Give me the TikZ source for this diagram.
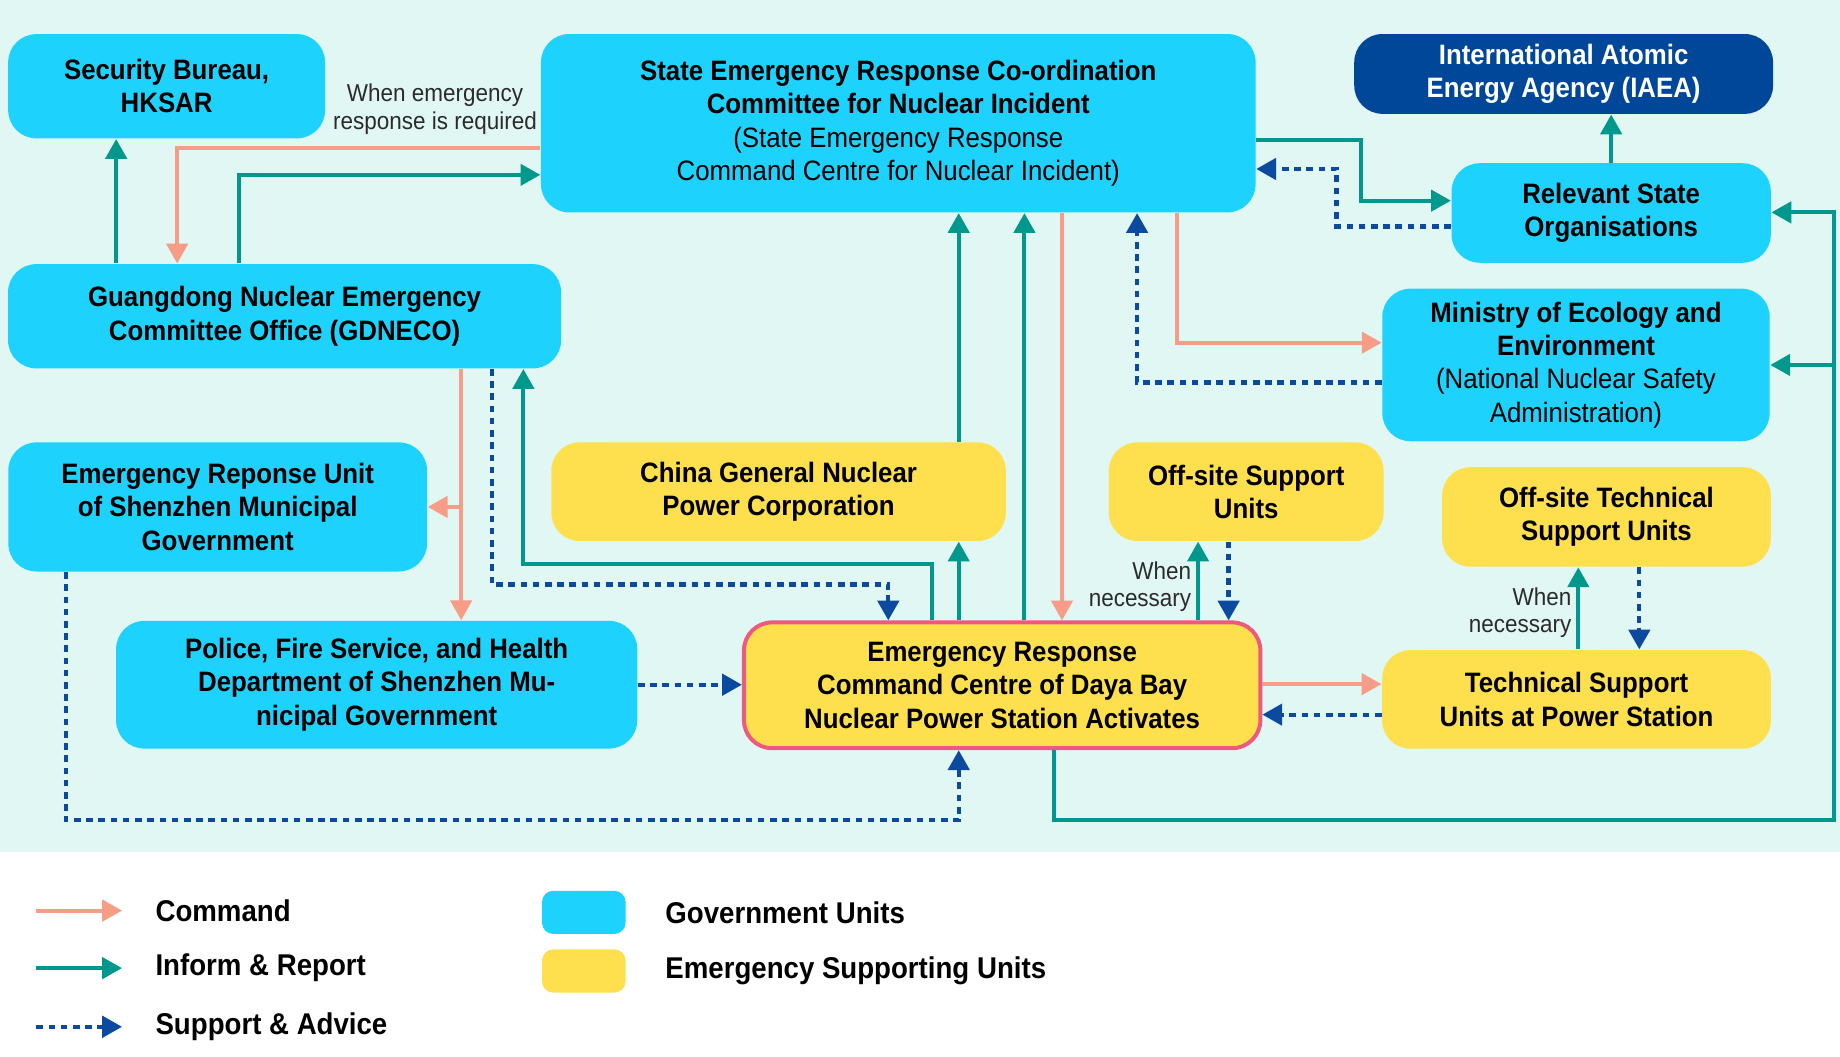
\documentclass[tikz,border=0pt]{standalone}
\usepackage{fontspec}
\setmainfont{Liberation Sans}[FakeStretch=0.92]
\usepackage{xcolor}
\usepackage{tikz}
\usetikzlibrary{positioning,arrows.meta}

\definecolor{bgmint}{HTML}{E0F7F4}
\definecolor{govblue}{HTML}{1DD3FD}
\definecolor{supyellow}{HTML}{FEDF4E}
\definecolor{iaeablue}{HTML}{00479A}
\definecolor{cmdsalmon}{HTML}{F69C87}
\definecolor{infoteal}{HTML}{00978C}
\definecolor{supnavy}{HTML}{0B4A9E}
\definecolor{erccred}{HTML}{EE5A7D}
\definecolor{notegrey}{HTML}{2B2B2B}

\begin{document}
\begin{tikzpicture}[
    x=0.0125cm, y=-0.0125cm,
    govbox/.style={
        rectangle, rounded corners=0.3cm, fill=govblue,
        inner sep=0pt, align=center,
        font=\fontsize{8.5}{10.1}\selectfont\bfseries
    },
    supbox/.style={govbox, fill=supyellow},
    note/.style={font=\fontsize{7.4}{8.3}\selectfont, text=notegrey, inner sep=1.5pt},
    command/.style={draw=cmdsalmon, line width=1.2pt, -{Triangle[length=6pt, width=6.4pt]}},
    inform/.style={draw=infoteal, line width=1.2pt, -{Triangle[length=6pt, width=6.4pt]}},
    support/.style={draw=supnavy, line width=1.3pt, dash pattern=on 2pt off 1.7pt,
        -{Triangle[length=6pt, width=6.4pt]}},
    legtext/.style={font=\fontsize{9.1}{10.5}\selectfont\bfseries, inner sep=0pt},
    legswatch/.style={rectangle, rounded corners=0.12cm, minimum width=0.89cm,
        minimum height=0.46cm, inner sep=0pt}
]
\useasboundingbox[fill=white] (0,0) rectangle (1568,900);
\fill[bgmint] (0,0) rectangle (1568,726);

% units
\node[govbox, minimum width=3.375cm, minimum height=1.11cm] (secbureau) at (142,73.5) {Security Bureau,\\HKSAR};
\node[govbox, minimum width=7.61cm, minimum height=1.9cm] (sercc) at (765.5,105)
    {State Emergency Response Co-ordination\\Committee for Nuclear Incident\\
     \textmd{(State Emergency Response}\\\textmd{Command Centre for Nuclear Incident)}};
\node[govbox, fill=iaeablue, text=white, minimum width=4.46cm, minimum height=0.85cm] (iaea) at (1332.5,63) {International Atomic\\Energy Agency (IAEA)};
\node[govbox, minimum width=3.4cm, minimum height=1.06cm] (relstate) at (1373,181.5) {Relevant State\\Organisations};
\node[govbox, minimum width=4.125cm, minimum height=1.625cm] (mee) at (1343,311)
    {Ministry of Ecology and\\Environment\\\textmd{(National Nuclear Safety}\\\textmd{Administration)}};
\node[govbox, minimum width=5.89cm, minimum height=1.11cm] (gdneco) at (242.5,269.5) {Guangdong Nuclear Emergency\\Committee Office (GDNECO)};
\node[govbox, minimum width=4.46cm, minimum height=1.375cm] (szeru) at (185.5,432) {Emergency Reponse Unit\\of Shenzhen Municipal\\Government};
\node[supbox, minimum width=4.84cm, minimum height=1.05cm] (cgn) at (663.5,419) {China General Nuclear\\Power Corporation};
\node[supbox, minimum width=2.925cm, minimum height=1.05cm] (offsite) at (1062,419) {Off-site Support\\Units};
\node[supbox, minimum width=3.5cm, minimum height=1.06cm] (offtech) at (1369,440.5) {Off-site Technical\\Support Units};
\node[govbox, minimum width=5.55cm, minimum height=1.36cm] (police) at (321,583.5) {Police, Fire Service, and Health\\Department of Shenzhen Mu-\\nicipal Government};
\node[supbox, draw=erccred, line width=1.2pt, minimum width=5.5cm, minimum height=1.34cm] (dbercc) at (854,584)
    {Emergency Response\\Command Centre of Daya Bay\\Nuclear Power Station Activates};
\node[supbox, minimum width=4.14cm, minimum height=1.05cm] (techps) at (1343.5,596) {Technical Support\\Units at Power Station};

\coordinate (cmdsplit) at (393,432);
\coordinate (rbranch) at (1563,311);

% command
\draw[command] (sercc.west |- 0,126) -| node[pos=0.145, above=2pt, note, align=center]{When emergency\\response is required} (gdneco.north -| 151,0);
\draw[command] (gdneco.south -| 393,0) -- (police.north -| 393,0);
\draw[command] (cmdsplit) -- (szeru.east |- cmdsplit);
\draw[command] (sercc.south -| 905,0) -- (dbercc.north -| 905,0);
\draw[command] (sercc.south -| 1003,0) |- (mee.west |- 0,292);
\draw[command] (dbercc.east |- 0,583) -- (techps.west |- 0,583);

% inform & report
\draw[inform] (gdneco.north -| 99,0) -- (secbureau.south -| 99,0);
\draw[inform] (gdneco.north -| 204,0) |- (sercc.west |- 0,149);
\draw[inform] (dbercc.north -| 794,0) -- ++(0,-48) -| (gdneco.south -| 446,0);
\draw[inform] (dbercc.north -| 817,0) -- (cgn.south -| 817,0);
\draw[inform] (cgn.north -| 817,0) -- (sercc.south -| 817,0);
\draw[inform] (dbercc.north -| 873,0) -- (sercc.south -| 873,0);
\draw[inform] (dbercc.north -| 1021,0) -- node[pos=0.43, left, note, align=right]{When\\necessary} (offsite.south -| 1021,0);
\draw[inform] (sercc.east |- 0,119) -| (1160,145) |- (relstate.west |- 0,171);
\draw[inform] (relstate.north) -- (relstate.north |- iaea.south);
\draw[inform] (dbercc.south -| 898,0) |- (1563,699) |- (relstate.east |- 0,181);
\draw[inform] (rbranch) -- (mee.east |- rbranch);
\draw[inform] (techps.north -| 1345,0) -- node[pos=0.45, left, note, align=right]{When\\necessary} (offtech.south -| 1345,0);

% support & advice
\draw[support] (gdneco.south -| 419,0) -- (419,498) -| (dbercc.north -| 757,0);
\draw[support] (szeru.south -| 56,0) -- (56,699) -| (dbercc.south -| 817,0);
\draw[support] (police.east) -- (dbercc.west |- police.east);
\draw[support] (offsite.south -| 1047,0) -- (dbercc.north -| 1047,0);
\draw[support] (techps.west |- 0,609) -- (dbercc.east |- 0,609);
\draw[support] (offtech.south -| 1397,0) -- (techps.north -| 1397,0);
\draw[support] (relstate.west |- 0,193) -| (1139,170) |- (sercc.east |- 0,144);
\draw[support] (mee.west |- 0,326) -| (sercc.south -| 969,0);

% legend
\coordinate (cmdA) at (31,776);
\coordinate (cmdB) at (104,776);
\coordinate (infA) at (31,825);
\coordinate (infB) at (104,825);
\coordinate (supA) at (31,875);
\coordinate (supB) at (104,875);
\draw[command] (cmdA) -- (cmdB);
\draw[inform] (infA) -- (infB);
\draw[support] (supA) -- (supB);
\node[legtext, right=0.35cm of cmdB] (cmdtxt) {Command};
\node[legtext, right=0.35cm of infB] (inftxt) {Inform \& Report};
\node[legtext, right=0.35cm of supB] (suptxt) {Support \& Advice};
\node[legswatch, fill=govblue] (govsw) at (497.5,777.5) {};
\node[legswatch, fill=supyellow, below=0.15cm of govsw] (supsw) {};
\node[legtext, right=0.41cm of govsw] (govtxt) {Government Units};
\node[legtext, right=0.41cm of supsw] (suptxt2) {Emergency Supporting Units};
\end{tikzpicture}
\end{document}
